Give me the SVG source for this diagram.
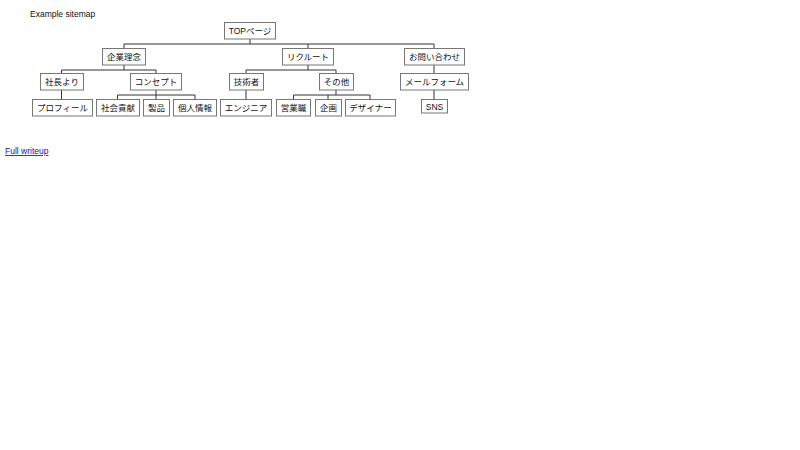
<svg xmlns="http://www.w3.org/2000/svg" width="800" height="450" viewBox="0 0 800 450">
<style>
text{font-family:"Liberation Sans","Noto Sans CJK JP",sans-serif;font-size:8.5px;fill:#111}
.n rect{fill:#fff;stroke:#777;stroke-width:1}
.n text{text-anchor:middle}
#links path{fill:none;stroke:#333;stroke-width:1}
.lnk{fill:#1a0dab;text-decoration:underline}
</style>
<rect width="800" height="450" fill="#fff"/>
<text x="30" y="16.5">Example sitemap</text>
<g id="links">
<path d="M250 39V44M124 44H434M124 44V48.5M308 44V48.5M434 44V48.5"/>
<path d="M124 65V70M61.5 70H156M61.5 70V73.5M156 70V73.5"/>
<path d="M308 65V70M246 70H336M246 70V73.5M336 70V73.5"/>
<path d="M434 65V73.5"/>
<path d="M61.5 90V99.5"/>
<path d="M156 90V95M117.5 95H195M117.5 95V99.5M156 95V99.5M195 95V99.5"/>
<path d="M246 90V99.5"/>
<path d="M336 90V95M293.5 95H370M293.5 95V99.5M328 95V99.5M370 95V99.5"/>
<path d="M434 90V99.5"/>
</g>
<g id="n-top" class="n"><rect x="224.5" y="22.5" width="51" height="16.5"/><text x="250" y="34">TOPページ</text></g>
<g id="n-kigyo" class="n"><rect x="102.5" y="48.5" width="43" height="16.5"/><text x="124" y="60">企業理念</text></g>
<g id="n-recruit" class="n"><rect x="282.5" y="48.5" width="51" height="16.5"/><text x="308" y="60">リクルート</text></g>
<g id="n-contact" class="n"><rect x="404.5" y="48.5" width="60" height="16.5"/><text x="434.5" y="60">お問い合わせ</text></g>
<g id="n-shacho" class="n"><rect x="40.5" y="73.5" width="43" height="16.5"/><text x="62" y="85">社長より</text></g>
<g id="n-concept" class="n"><rect x="130.5" y="73.5" width="51" height="16.5"/><text x="156" y="85">コンセプト</text></g>
<g id="n-gijutsu" class="n"><rect x="229.5" y="73.5" width="34" height="16.5"/><text x="246.5" y="85">技術者</text></g>
<g id="n-sonota" class="n"><rect x="319.5" y="73.5" width="34" height="16.5"/><text x="336.5" y="85">その他</text></g>
<g id="n-mail" class="n"><rect x="400.5" y="73.5" width="68" height="16.5"/><text x="434.5" y="85">メールフォーム</text></g>
<g id="n-profile" class="n"><rect x="32.5" y="99.5" width="60" height="16.5"/><text x="62.5" y="111">プロフィール</text></g>
<g id="n-shakai" class="n"><rect x="96.5" y="99.5" width="43" height="16.5"/><text x="118" y="111">社会貢献</text></g>
<g id="n-seihin" class="n"><rect x="143.5" y="99.5" width="26" height="16.5"/><text x="156.5" y="111">製品</text></g>
<g id="n-kojin" class="n"><rect x="173.5" y="99.5" width="43" height="16.5"/><text x="195" y="111">個人情報</text></g>
<g id="n-engineer" class="n"><rect x="220.5" y="99.5" width="51" height="16.5"/><text x="246" y="111">エンジニア</text></g>
<g id="n-eigyo" class="n"><rect x="276.5" y="99.5" width="34" height="16.5"/><text x="293.5" y="111">営業職</text></g>
<g id="n-kikaku" class="n"><rect x="315.5" y="99.5" width="26" height="16.5"/><text x="328.5" y="111">企画</text></g>
<g id="n-designer" class="n"><rect x="345.5" y="99.5" width="50" height="16.5"/><text x="370.5" y="111">デザイナー</text></g>
<g id="n-sns" class="n"><rect x="421.5" y="99.5" width="26" height="13.5"/><text x="434.5" y="109.5">SNS</text></g>
<text x="5" y="154" class="lnk">Full writeup</text>
</svg>
